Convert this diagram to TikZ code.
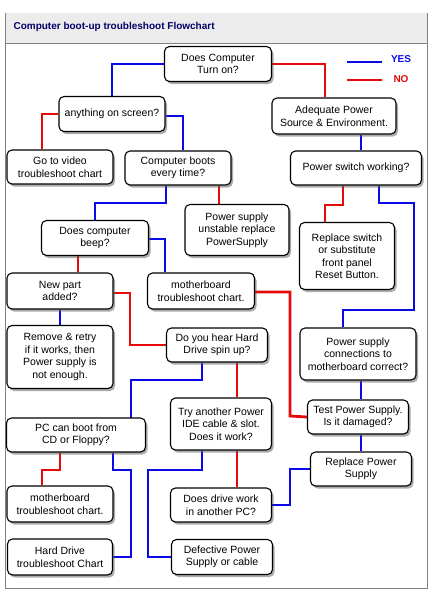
\documentclass[tikz,border=0pt]{standalone}
\usepackage{fontspec}
\setmainfont{Liberation Sans}
\usetikzlibrary{shadows,calc,backgrounds}
\definecolor{yb}{HTML}{0A0AE6}
\definecolor{nr}{HTML}{E60A0A}
\begin{document}
\begin{tikzpicture}[x=1pt,y=-1pt,
 box/.style={draw=black,line width=1.1pt,rounded corners=5pt,fill=white,align=center,inner sep=1pt,
   font=\fontsize{10.5}{12.5}\selectfont,
   drop shadow={shadow xshift=2pt,shadow yshift=-2.5pt,fill=black!65}},
 yes/.style={draw=yb,line width=2.8pt},
 no/.style={draw=nr,line width=2.8pt}]
\newcommand{\bx}[5]{\node[box,minimum width=#3,minimum height=#4] (#1) at (#2) {#5};}
\useasboundingbox (0,0) rectangle (438,602);
% nodes
\bx{turn}{218,64}{107pt}{35pt}{Does Computer\\Turn on?}
\bx{any}{112,114}{106pt}{35pt}{anything on screen?}
\bx{adq}{334,116}{124pt}{36pt}{Adequate Power\\Source \& Environment.}
\bx{vid}{60,167}{106pt}{34pt}{Go to video\\troubleshoot chart}
\bx{cb}{178,168}{106pt}{34pt}{Computer boots\\every time?}
\bx{psw}{356,168}{131pt}{34pt}{Power switch working?}
\bx{psu}{237,230}{104pt}{51pt}{Power supply\\unstable replace\\PowerSupply}
\bx{beep}{95,238}{107pt}{35pt}{Does computer\\beep?}
\bx{rsw}{347,256}{95pt}{67pt}{Replace switch\\or substitute\\front panel\\Reset Button.}
\bx{newp}{60,291}{106pt}{36pt}{New part\\added?}
\bx{mb1}{201,291}{107pt}{36pt}{motherboard\\troubleshoot chart.}
\bx{rem}{60,357}{106pt}{63pt}{Remove \& retry\\if it works, then\\Power supply is\\not enough.}
\bx{hear}{217,345}{101pt}{34pt}{Do you hear Hard\\Drive spin up?}
\bx{psc}{358,354}{116pt}{52pt}{Power supply\\connections to\\motherboard correct?}
\bx{test}{358,417}{101pt}{34pt}{Test Power Supply.\\Is it damaged?}
\bx{pcb}{76,435}{139pt}{34pt}{PC can boot from\\CD or Floppy?}
\bx{try}{221,424}{101pt}{52pt}{Try another Power\\IDE cable \& slot.\\Does it work?}
\bx{rps}{361,469}{101pt}{34pt}{Replace Power\\Supply}
\bx{mb2}{60,504}{106pt}{36pt}{motherboard\\troubleshoot chart.}
\bx{drv}{221,505}{101pt}{34pt}{Does drive work\\in another PC?}
\bx{hd}{60,557}{105pt}{36pt}{Hard Drive\\troubleshoot Chart}
\bx{def}{222,557}{101pt}{35pt}{Defective Power\\Supply or cable}
\node[anchor=west,text=blue!40!black,font=\bfseries\fontsize{10}{12}\selectfont] (title) at (10,27) {Computer boot-up troubleshoot Flowchart};
\node[text=yb,font=\bfseries\fontsize{10}{12}\selectfont] (lyes) at (401,59) {YES};
\node[text=nr,font=\bfseries\fontsize{10}{12}\selectfont] (lno) at (401,79) {NO};
\begin{scope}[on background layer]
\fill[white] (0,0) rectangle (438,602);
\draw[gray,fill=white] (5,13) rectangle (427,588);
\fill[gray!15] (5.5,13.5) rectangle (426.5,43);
\draw[gray] (5,43) -- (427,43);
\draw[yes] (347,62) coordinate (ly1) -- (382,62) coordinate (ly2);
\draw[no] (347,80) coordinate (ln1) -- (382,80) coordinate (ln2);
\draw[yes] (turn.west) -| (any.north);
\draw[no] (turn.east) -| ($(adq.north)+(-9,0)$);
\draw[no] (any.west) -| ($(vid.north)+(-18,0)$);
\draw[yes] ($(any.east)+(0,2)$) -| ($(cb.north)+(5,0)$);
\draw[yes] ($(adq.south)+(27,0)$) -- ($(psw.north)+(5,0)$);
\draw[yes] ($(cb.south)+(-12,0)$) |- (166,203) -| (beep.north);
\draw[no] ($(cb.south)+(41,0)$) -- ($(psu.north)+(-18,0)$);
\draw[no] ($(psw.south)+(-13,0)$) |- (343,205) -| ($(rsw.north)+(-22,0)$);
\draw[yes] ($(psw.south)+(23,0)$) |- (414,203) |- (343,310) -- ($(psc.north)+(-15,0)$);
\draw[yes] ($(beep.east)+(0,1)$) -| ($(mb1.north)+(-36,0)$);
\draw[no] ($(beep.south)+(-17,0)$) -- ($(newp.north)+(18,0)$);
\draw[no] ($(newp.east)+(0,2)$) -| (130,345) -- (hear.west);
\draw[yes] (newp.south) -- (rem.north);
\draw[no] ($(mb1.east)+(0,1)$) -| (290,416) -- (test.west);
\draw[yes] ($(psc.south)+(3,0)$) -- ($(test.north)+(3,0)$);
\draw[yes] ($(test.south)+(3,0)$) -- (rps.north);
\draw[yes] ($(hear.south)+(-15,0)$) |- (131,380) -- (131,418);
\draw[no] ($(hear.south)+(20,0)$) -- ($(try.north)+(16,0)$);
\draw[no] ($(pcb.south)+(-16,0)$) |- (42,470) -- ($(mb2.north)+(-18,0)$);
\draw[yes] ($(pcb.south)+(37,0)$) |- (131,470) |- (hd.east);
\draw[yes] ($(try.south)+(-19,0)$) |- (148,470) |- (def.west);
\draw[no] ($(try.south)+(16,0)$) -- ($(drv.north)+(16,0)$);
\draw[yes] (drv.east) -| (290,469) -- (rps.west);
\end{scope}
\end{tikzpicture}
\end{document}
